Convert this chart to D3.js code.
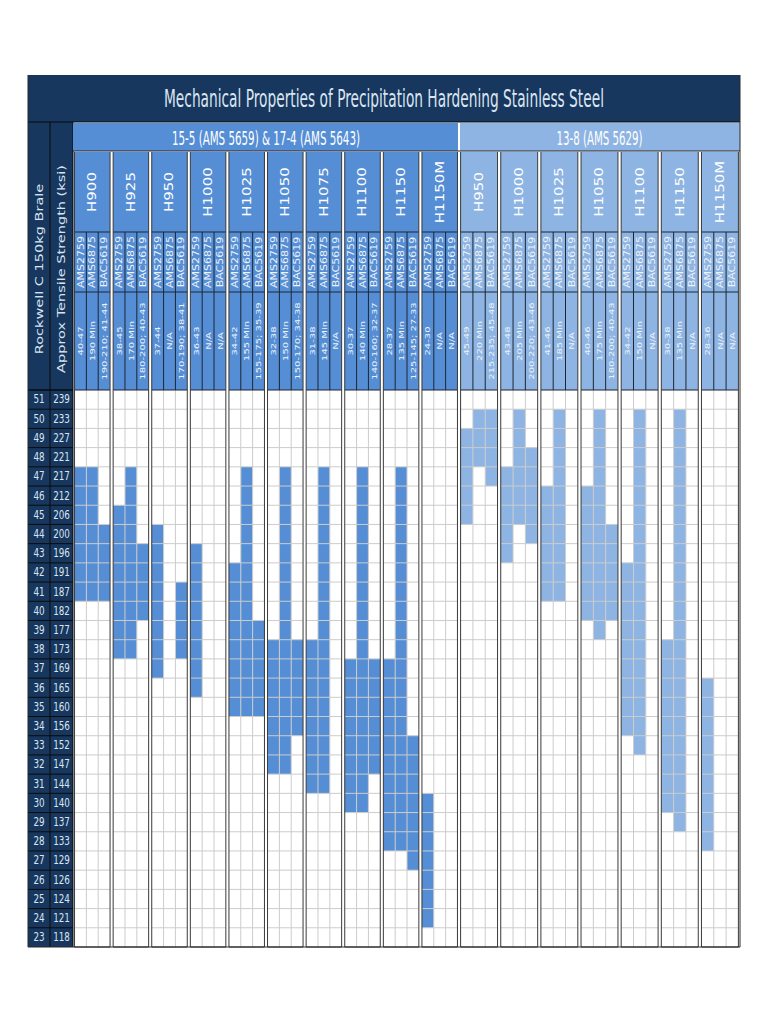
<!DOCTYPE html>
<html>
<head>
<meta charset="utf-8">
<script src="https://cdn.jsdelivr.net/npm/d3@7"></script>
<style>
  body { margin: 0; background: #fff; }
  svg { display: block; }
</style>
</head>
<body>
<svg id="chart" width="768" height="1024"></svg>
<script>
// chart data
const title = "Mechanical Properties of Precipitation Hardening Stainless Steel";
const rockwellLabel = "Rockwell C 150kg Brale";
const tensileLabel = "Approx Tensile Strength (ksi)";
const rockwell = [51, 50, 49, 48, 47, 46, 45, 44, 43, 42, 41, 40, 39, 38, 37, 36, 35, 34, 33, 32, 31, 30, 29, 28, 27, 26, 25, 24, 23];
const tensile = [239, 233, 227, 221, 217, 212, 206, 200, 196, 191, 187, 182, 177, 173, 169, 165, 160, 156, 152, 147, 144, 140, 137, 133, 129, 126, 124, 121, 118];
const specs = ["AMS2759", "AMS6875", "BAC5619"];

// 15-5 / 17-4
const alloy155 = "15-5 (AMS 5659) & 17-4 (AMS 5643)";
const conditions155 = ["H900", "H925", "H950", "H1000", "H1025", "H1050", "H1075", "H1100", "H1150", "H1150M"];
const values155 = [
  ["40-47", "190 Min", "190-210; 41-44"],
  ["38-45", "170 Min", "180-200; 40-43"],
  ["37-44", "N/A", "170-190; 38-41"],
  ["36-43", "N/A", "N/A"],
  ["34-42", "155 Min", "155-175; 35-39"],
  ["32-38", "150 Min", "150-170; 34-38"],
  ["31-38", "145 Min", "N/A"],
  ["30-37", "140 Min", "140-160; 32-37"],
  ["28-37", "135 Min", "125-145; 27-33"],
  ["24-30", "N/A", "N/A"]
];
// shaded HRC span per spec column: [top, bottom]
const ranges155 = [
  [[47, 41], [47, 41], [44, 41]],
  [[45, 38], [47, 38], [43, 40]],
  [[44, 37], null, [41, 38]],
  [[43, 36], null, null],
  [[42, 35], [47, 35], [39, 35]],
  [[38, 32], [47, 32], [38, 34]],
  [[38, 31], [47, 31], null],
  [[37, 30], [47, 30], [37, 32]],
  [[37, 28], [47, 28], [33, 27]],
  [[30, 24], null, null]
];

// 13-8
const alloy138 = "13-8 (AMS 5629)";
const conditions138 = ["H950", "H1000", "H1025", "H1050", "H1100", "H1150", "H1150M"];
const values138 = [
  ["45-49", "220 Min", "215-235; 45-48"],
  ["43-48", "205 Min", "200-220; 43-46"],
  ["41-46", "185 Min", "N/A"],
  ["40-46", "175 Min", "180-200; 40-43"],
  ["34-42", "150 Min", "N/A"],
  ["30-38", "135 Min", "N/A"],
  ["28-36", "N/A", "N/A"]
];
const ranges138 = [
  [[49, 45], [50, 48], [50, 47]],
  [[47, 43], [50, 45], [48, 44]],
  [[46, 41], [50, 41], null],
  [[46, 40], [50, 39], [44, 40]],
  [[42, 34], [50, 33], null],
  [[38, 30], [50, 29], null],
  [[36, 28], null, null]
];

// look
const navy = "#17375e";
const gridGray = "#cccccc";
const dark = "#2b2b2b";
const narrow = "'Liberation Sans Narrow', 'Arial Narrow', 'DejaVu Sans Condensed', sans-serif";
const wide = "'DejaVu Sans', Verdana, sans-serif";

// the sheet is drawn squeezed sideways, like the original export
const sx = 0.78;
const X = v => v / sx;

const edge = {left: 28, rock: 50, tens: 73, split: 459, right: 740};
const band = {titleTop: 75, titleBottom: 122, alloyTop: 123, alloyBottom: 151, condTop: 152, specTop: 232, valTop: 292, gridTop: 390, gridBottom: 947};

const svg = d3.select("#chart");
const root = svg.append("g").attr("transform", `scale(${sx},1)`);

const y = d3.scaleBand().domain(rockwell).range([band.gridTop, band.gridBottom]);

const families = [
  {alloy: alloy155, conditions: conditions155, values: values155, ranges: ranges155, color: "#558ed5", span: [X(edge.tens), X(edge.split)]},
  {alloy: alloy138, conditions: conditions138, values: values138, ranges: ranges138, color: "#8db4e2", span: [X(edge.split), X(edge.right)]}
];
families.forEach(f => {
  f.x = d3.scaleBand().domain(f.conditions).range(f.span).paddingInner(0.08).paddingOuter(0.04);
  f.sub = d3.scaleBand().domain(specs).range([0, f.x.bandwidth()]);
});

function line(sel, x1, y1, x2, y2, color) {
  return sel.append("line")
    .attr("x1", x1).attr("y1", y1).attr("x2", x2).attr("y2", y2)
    .attr("stroke", color).attr("stroke-width", 1)
    .attr("vector-effect", "non-scaling-stroke");
}

// title bar
root.append("rect")
  .attr("x", X(edge.left)).attr("y", band.titleTop)
  .attr("width", X(edge.right) - X(edge.left)).attr("height", band.titleBottom - band.titleTop)
  .attr("fill", navy);
root.append("text")
  .attr("x", X((edge.left + edge.right) / 2)).attr("y", 107)
  .attr("text-anchor", "middle")
  .attr("font-family", narrow).attr("font-size", 24)
  .attr("fill", "#dbe5f1")
  .attr("textLength", X(440)).attr("lengthAdjust", "spacingAndGlyphs")
  .text(title);

// left label columns
root.append("rect")
  .attr("x", X(edge.left)).attr("y", band.titleBottom)
  .attr("width", X(edge.tens) - X(edge.left)).attr("height", band.gridBottom - band.titleBottom)
  .attr("fill", navy);

[[rockwellLabel, (edge.left + edge.rock) / 2], [tensileLabel, (edge.rock + edge.tens) / 2]].forEach(([t, cx]) => {
  root.append("text")
    .attr("transform", `translate(${X(cx)},269) rotate(-90)`)
    .attr("text-anchor", "middle").attr("dominant-baseline", "central")
    .attr("font-family", wide).attr("font-size", 14.5)
    .attr("fill", "#dbe5f1")
    .text(t);
});

root.selectAll(".hrc")
  .data(rockwell)
  .join("text")
  .attr("class", "hrc")
  .attr("x", X((edge.left + edge.rock) / 2))
  .attr("y", d => y(d) + y.bandwidth() / 2)
  .attr("text-anchor", "middle").attr("dominant-baseline", "central")
  .attr("font-family", narrow).attr("font-size", 12.5)
  .attr("fill", "#dbe5f1")
  .text(d => d);

root.selectAll(".ksi")
  .data(rockwell)
  .join("text")
  .attr("class", "ksi")
  .attr("x", X((edge.rock + edge.tens) / 2))
  .attr("y", d => y(d) + y.bandwidth() / 2)
  .attr("text-anchor", "middle").attr("dominant-baseline", "central")
  .attr("font-family", narrow).attr("font-size", 12.5)
  .attr("fill", "#dbe5f1")
  .text((d, i) => tensile[i]);

line(root, X(edge.rock), band.titleBottom, X(edge.rock), band.gridBottom, "#0b0b0b");
line(root, X(edge.tens), band.titleBottom, X(edge.tens), band.gridBottom, "#0b0b0b");
rockwell.forEach(d => line(root, X(edge.left), y(d), X(edge.tens), y(d), "#0b0b0b"));

// families
families.forEach(f => {
  root.append("rect")
    .attr("x", f.span[0]).attr("y", band.alloyTop)
    .attr("width", f.span[1] - f.span[0]).attr("height", band.alloyBottom - band.alloyTop)
    .attr("fill", f.color);
  root.append("text")
    .attr("x", (f.span[0] + f.span[1]) / 2).attr("y", 145)
    .attr("text-anchor", "middle")
    .attr("font-family", narrow).attr("font-size", 19)
    .attr("fill", "#ffffff")
    .attr("textLength", X(f.alloy.length > 20 ? 188 : 86)).attr("lengthAdjust", "spacingAndGlyphs")
    .text(f.alloy);

  const bw = f.x.bandwidth();
  const sbw = f.sub.bandwidth();

  const groups = root.selectAll(null)
    .data(f.conditions.map((c, i) => ({c, i})))
    .join("g")
    .attr("transform", d => `translate(${f.x(d.c)},0)`);

  groups.each(function(d) {
    const g = d3.select(this);

    // header blocks
    g.append("rect")
      .attr("x", 0).attr("y", band.condTop)
      .attr("width", bw).attr("height", band.gridTop - band.condTop)
      .attr("fill", f.color);

    // shaded hardness spans
    g.selectAll(".span")
      .data(specs.map((s, j) => ({s, r: f.ranges[d.i][j]})).filter(e => e.r))
      .join("rect")
      .attr("class", "span")
      .attr("x", e => f.sub(e.s))
      .attr("y", e => y(e.r[0]))
      .attr("width", sbw)
      .attr("height", e => y(e.r[1]) + y.bandwidth() - y(e.r[0]))
      .attr("fill", f.color);

    // grid lines
    rockwell.slice(1).forEach(r => line(g, 0, y(r), bw, y(r), gridGray));
    specs.slice(1).forEach(s => {
      line(g, f.sub(s), band.gridTop, f.sub(s), band.gridBottom, gridGray);
      line(g, f.sub(s), band.specTop, f.sub(s), band.gridTop, "#1e2633");
    });
    [band.specTop, band.valTop, band.gridTop].forEach(v => line(g, 0, v, bw, v, "#1e2633"));
    line(g, 0, band.gridBottom, bw, band.gridBottom, dark);
    line(g, 0, band.condTop, 0, band.gridBottom, "#3a3a3a");
    line(g, bw, band.condTop, bw, band.gridBottom, "#3a3a3a");

    // texts
    g.append("text")
      .attr("transform", `translate(${bw / 2},${(band.condTop + band.specTop) / 2}) rotate(-90)`)
      .attr("text-anchor", "middle").attr("dominant-baseline", "central")
      .attr("font-family", wide).attr("font-size", 15)
      .attr("fill", "#ffffff")
      .text(d.c);

    g.selectAll(".spec")
      .data(specs)
      .join("text")
      .attr("class", "spec")
      .attr("transform", s => `translate(${f.sub(s) + sbw / 2},${(band.specTop + band.valTop) / 2}) rotate(-90)`)
      .attr("text-anchor", "middle").attr("dominant-baseline", "central")
      .attr("font-family", wide).attr("font-size", 11)
      .attr("fill", "#eef3fa")
      .text(s => s);

    g.selectAll(".val")
      .data(specs.map((s, j) => ({s, v: f.values[d.i][j]})))
      .join("text")
      .attr("class", "val")
      .attr("transform", e => `translate(${f.sub(e.s) + sbw / 2},${(band.valTop + band.gridTop) / 2}) rotate(-90)`)
      .attr("text-anchor", "middle").attr("dominant-baseline", "central")
      .attr("font-family", wide).attr("font-size", 10)
      .attr("fill", "#eef3fa")
      .text(e => e.v);
  });
});

// separators between header bands
root.append("rect")
  .attr("x", X(edge.split) - X(1)).attr("y", band.alloyTop)
  .attr("width", X(2)).attr("height", band.alloyBottom - band.alloyTop)
  .attr("fill", "#ffffff");
line(root, X(edge.left), band.titleBottom, X(edge.right), band.titleBottom, "#0b0b0b");
line(root, X(edge.tens), band.alloyBottom, X(edge.right), band.alloyBottom, "#1e2633");
line(root, X(edge.left), band.gridTop, X(edge.tens), band.gridTop, "#0b0b0b");
line(root, X(edge.left), band.gridBottom, X(edge.right), band.gridBottom, dark);
line(root, X(edge.right), band.titleTop, X(edge.right), band.gridBottom, dark);
line(root, X(edge.left), band.titleTop, X(edge.left), band.gridBottom, dark);
</script>
</body>
</html>
